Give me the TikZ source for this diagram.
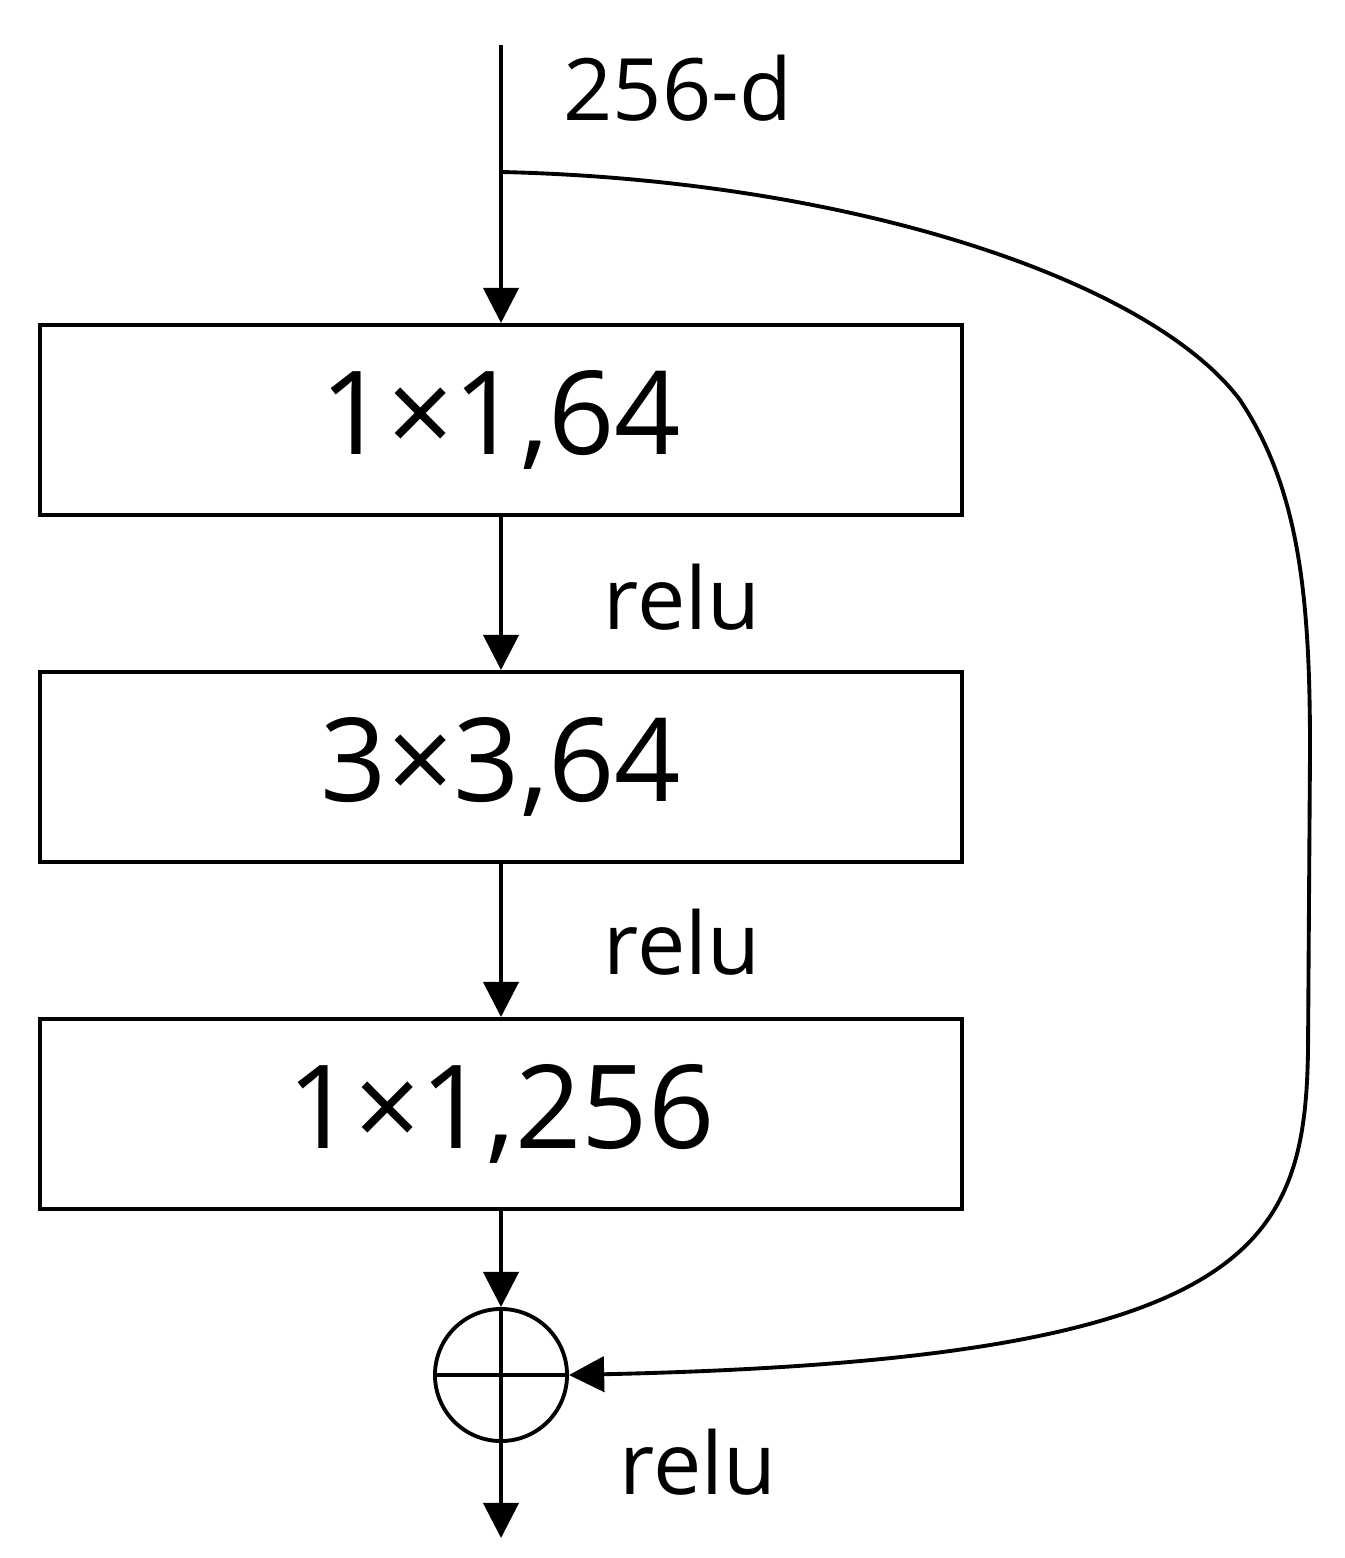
\documentclass[tikz,border=0pt]{standalone}
\usepackage{fontspec}
\setmainfont{Open Sans}
\usetikzlibrary{arrows.meta}
\begin{document}
\begin{tikzpicture}[x=0.01cm,y=-0.01cm,
  line width=1.1pt,
  arr/.style={-{Triangle[length=10pt,width=10pt]}},
  box/.style={draw,minimum width=9.22cm,minimum height=1.9cm,inner sep=0pt,font=\fontsize{33}{36}\selectfont},
  lab/.style={font=\fontsize{24.5}{26}\selectfont,anchor=west}]
\useasboundingbox (0,0) rectangle (1344,1558);
\node[box] (b1) at (501,420) {1×1,64};
\node[box] (b2) at (501,767) {3×3,64};
\node[box] (b3) at (501,1114) {1×1,256};
\node[draw,circle,minimum size=1.32cm,inner sep=0pt] (s) at (501,1375) {};
\draw (s.north) -- (s.south) (s.west) -- (s.east);
\coordinate (in) at (501,45);
\coordinate (br) at (501,172);
\coordinate (out) at (501,1538);
\draw[arr] (in) -- (b1.north);
\draw[arr] (b1.south) -- (b2.north);
\draw[arr] (b2.south) -- (b3.north);
\draw[arr] (b3.south) -- (s.north);
\draw[arr] (s.south) -- (out);
\draw[arr] (br) .. controls (850,180) and (1150,280) .. (1240,400)
  .. controls (1300,490) and (1310,600) .. (1310,750)
  -- (1308,1050) .. controls (1305,1250) and (1250,1360) .. (s.east);
\node[lab] (t0) at (550,88) {256-d};
\node[lab] (t1) at (590,597) {relu};
\node[lab] (t2) at (590,942) {relu};
\node[lab] (t3) at (606,1462) {relu};
\end{tikzpicture}
\end{document}
